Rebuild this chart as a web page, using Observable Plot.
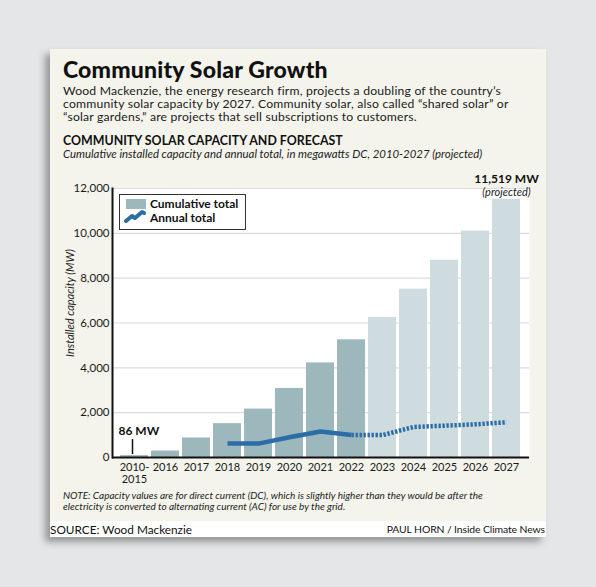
<!DOCTYPE html>
<html>
<head>
<meta charset="utf-8">
<script src="https://cdn.jsdelivr.net/npm/d3@7"></script>
<script src="https://cdn.jsdelivr.net/npm/@observablehq/plot@0.6"></script>
<style>
  html, body { margin: 0; padding: 0; }
  body { width: 596px; height: 587px; background: #e5e6e8; position: relative; overflow: hidden; font-family: Lato, "Open Sans", sans-serif; color: #1a1a1a; }
  .abs { position: absolute; white-space: nowrap; }
  #card { left: 50px; top: 49px; width: 496px; height: 488px; background: #f4f4ec; box-shadow: -5px 5px 7px rgba(0,0,0,0.35); }
  #strip { left: 50px; top: 521px; width: 496px; height: 16px; background: #ffffff; }
  #title { left: 63px; top: 56px; font-size: 23px; font-weight: 900; letter-spacing: 0.2px; line-height: 26px; color: #111; }
  #dek { left: 63px; top: 84px; font-size: 12.2px; letter-spacing: 0.2px; line-height: 13px; color: #1a1a1a; }
  #head { left: 63px; top: 134px; font-size: 12.4px; font-weight: 700; line-height: 14px; color: #111; }
  #sub { left: 63px; top: 147px; font-size: 11.4px; font-style: italic; line-height: 13px; color: #222; }
  #ylab { left: 69px; top: 303px; font-size: 11px; font-style: italic; transform: translate(-50%, -50%) rotate(-90deg); color: #222; }
  #legend { left: 119px; top: 194px; width: 125px; height: 34px; background: #fff; border: 1px solid #333; }
  #note { left: 63px; top: 490px; font-size: 10px; font-style: italic; line-height: 11px; color: #222; }
  #src { left: 50px; top: 523px; font-size: 11.8px; line-height: 13px; color: #111; }
  #credit { right: 51px; top: 523px; font-size: 10.4px; letter-spacing: -0.1px; line-height: 13px; color: #111; }
  #chart { left: 50px; top: 160px; }
</style>
</head>
<body>
<div id="card" class="abs"></div>
<div id="strip" class="abs"></div>
<div id="title" class="abs">Community Solar Growth</div>
<div id="dek" class="abs">Wood Mackenzie, the energy research firm, projects a doubling of the country’s<br>community solar capacity by 2027. Community solar, also called “shared solar” or<br>“solar gardens,” are projects that sell subscriptions to customers.</div>
<div id="head" class="abs">COMMUNITY SOLAR CAPACITY AND FORECAST</div>
<div id="sub" class="abs">Cumulative installed capacity and annual total, in megawatts DC, 2010-2027 (projected)</div>
<div id="chart" class="abs"></div>
<div id="ylab" class="abs">Installed capacity (MW)</div>
<div id="legend" class="abs"></div>
<div id="note" class="abs">NOTE: Capacity values are for direct current (DC), which is slightly higher than they would be after the<br>electricity is converted to alternating current (AC) for use by the grid.</div>
<div id="src" class="abs">SOURCE: Wood Mackenzie</div>
<div id="credit" class="abs">PAUL HORN / Inside Climate News</div>
<script>
// ---- data ----
const years = ["2010-2015","2016","2017","2018","2019","2020","2021","2022","2023","2024","2025","2026","2027"];
const cumulative = [86, 290, 870, 1510, 2160, 3080, 4220, 5250, 6250, 7510, 8800, 10100, 11519];
const lastActualYear = 2022;
const annualYears = ["2018","2019","2020","2021","2022","2023","2024","2025","2026","2027"];
const annual = [620, 620, 900, 1160, 1000, 1000, 1360, 1420, 1480, 1570];
const yTicks = [0, 2000, 4000, 6000, 8000, 10000, 12000];
const legendLabels = ["Cumulative total", "Annual total"];

const colHist = "#9db8bd";
const colProj = "#cedbdf";
const colLine = "#2a6da7";
const fmt = d3.format(",d");

const bars = years.map((y, i) => ({year: y, end: +y.slice(-4), value: cumulative[i]}));
const ann = annualYears.map((y, i) => ({year: y, end: +y, value: annual[i]}));
const annActual = ann.filter(d => d.end <= lastActualYear);
const annProj = ann.filter(d => d.end >= lastActualYear);
const first = bars[0];
const last = bars[bars.length - 1];

const chart = Plot.plot({
  width: 496,
  height: 330,
  marginLeft: 62,
  marginRight: 17,
  marginTop: 28,
  marginBottom: 33,
  style: {background: "transparent", fontFamily: "Lato, 'Open Sans', sans-serif", fontSize: "11.5px", color: "#1a1a1a", overflow: "visible"},
  x: {type: "band", domain: years, range: [66, 474], paddingInner: 0.1, paddingOuter: 0.05},
  y: {domain: [0, 12000]},
  marks: [
    Plot.frame({fill: "#ffffff", stroke: "none"}),
    Plot.gridY(yTicks.filter(d => d > 0), {stroke: "#dcdcdc", strokeOpacity: 1, strokeWidth: 1.2}),
    Plot.barY(bars.filter(d => d.end <= lastActualYear), {x: "year", y: "value", fill: colHist}),
    Plot.barY(bars.filter(d => d.end > lastActualYear), {x: "year", y: "value", fill: colProj}),
    Plot.line(annActual, {x: "year", y: "value", stroke: colLine, strokeWidth: 4.5, strokeLinejoin: "round", strokeLinecap: "butt"}),
    Plot.line(annProj, {x: "year", y: "value", stroke: colLine, strokeWidth: 4.5, strokeLinecap: "butt", strokeLinejoin: "miter", strokeDasharray: "2.4,1.6"}),
    Plot.ruleX([first], {x: "year", y1: 130, y2: 800, stroke: "#111", strokeWidth: 1.5, dx: -2}),
    Plot.text([first], {x: "year", y: 1160, text: d => `${d.value} MW`, textAnchor: "start", dx: -16, fontWeight: 700, fontSize: 12, fill: "#111"}),
    Plot.text([last], {x: "year", y: "value", text: d => `${fmt(d.value)} MW`, dy: -20, fontWeight: 700, fontSize: 12, fill: "#111"}),
    Plot.text([last], {x: "year", y: "value", text: () => "(projected)", dy: -7, fontStyle: "italic", fontSize: 11, fill: "#222"}),
    Plot.ruleY([0], {stroke: "#111", strokeWidth: 2}),
    Plot.frame({anchor: "left", stroke: "#111", strokeWidth: 2}),
    Plot.axisY(yTicks, {tickFormat: fmt, tickSize: 0, tickPadding: 3, label: null, fontSize: 11.5}),
    Plot.axisX({tickSize: 0, tickPadding: 5, label: null, fontSize: 11, lineHeight: 1.1, tickFormat: d => d.includes("-") ? d.replace("-", "-\n") : d})
  ]
});
document.getElementById("chart").appendChild(chart);

// legend
const lg = d3.select("#legend").append("svg").attr("width", 125).attr("height", 34).style("display", "block");
lg.append("rect").attr("x", 6).attr("y", 4).attr("width", 20).attr("height", 10).attr("fill", colHist);
lg.append("path").attr("d", "M6,26 L12,21 L15,23 L22,17 L24,18").attr("fill", "none").attr("stroke", colLine).attr("stroke-width", 4).attr("stroke-linecap", "round").attr("stroke-linejoin", "round");
lg.selectAll("text").data(legendLabels).join("text")
  .attr("x", 30).attr("y", (d, i) => 9 + i * 14).attr("dy", "0.35em")
  .attr("font-family", "Lato, 'Open Sans', sans-serif").attr("font-size", 12).attr("font-weight", 700).attr("fill", "#111")
  .text(d => d);
</script>
</body>
</html>
